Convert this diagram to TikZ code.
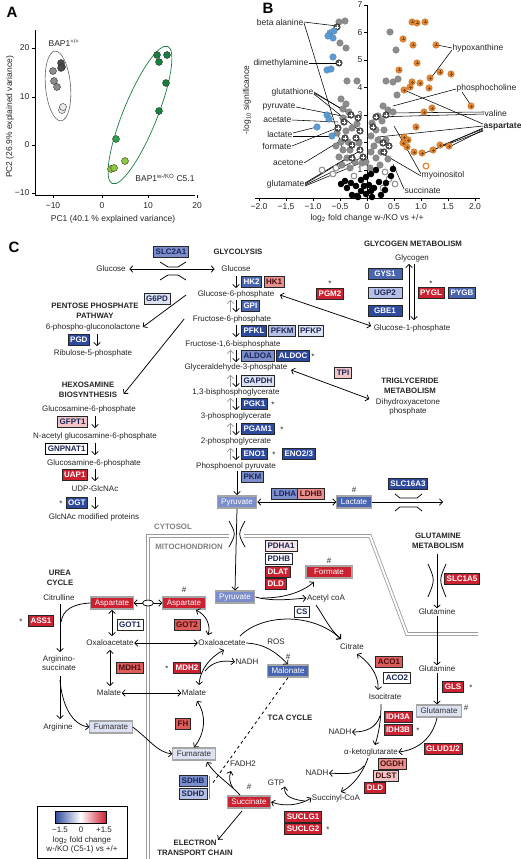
\documentclass[tikz,border=0pt]{standalone}
\usepackage{fontspec}
\setmainfont{Liberation Sans}
\usetikzlibrary{arrows.meta,calc}
\definecolor{bD}{HTML}{2E4A9E}
\definecolor{bM}{HTML}{4A65B0}
\definecolor{bL}{HTML}{7B8ECB}
\definecolor{bLL}{HTML}{B5C0E4}
\definecolor{bVL}{HTML}{DDE2F2}
\definecolor{rD}{HTML}{CC2131}
\definecolor{rM}{HTML}{DD5C5C}
\definecolor{rL}{HTML}{E89090}
\definecolor{rLL}{HTML}{F2C6C6}
\definecolor{rVL}{HTML}{FAE6E6}
\definecolor{navy}{HTML}{1B2658}
\definecolor{dred}{HTML}{4A0E0E}
\definecolor{memb}{HTML}{9A9A9A}
\definecolor{orng}{HTML}{E8862E}
\definecolor{sky}{HTML}{5B9BD5}
\definecolor{gD}{HTML}{17803F}
\definecolor{gM}{HTML}{2FA04E}
\definecolor{gL}{HTML}{8DC63F}
\begin{document}
\begin{tikzpicture}[x=1pt,y=-1pt,
 every node/.style={inner sep=0.5pt, text=black!85},
 t/.style={font=\fontsize{8}{9.5}\selectfont, align=center},
 ta/.style={font=\fontsize{8.5}{10}\selectfont},
 tb/.style={font=\bfseries\fontsize{7.8}{9.5}\selectfont, align=center},
 big/.style={font=\bfseries\fontsize{15}{15}\selectfont, text=black},
 ebox/.style={draw=black!85, line width=0.6pt, font=\bfseries\fontsize{8}{9}\selectfont, inner xsep=2.2pt, inner ysep=0pt, minimum height=11pt, text height=6pt, text depth=0.3pt},
 ew/.style={ebox, fill=#1, text=white},
 ek/.style={ebox, fill=#1, text=navy},
 er/.style={ebox, fill=#1, text=dred},
 mbox/.style={draw=black!35, line width=1.2pt, font=\fontsize{8}{9}\selectfont, inner xsep=4pt, inner ysep=0pt, minimum height=12pt, text height=6pt, text depth=1.5pt},
 mw/.style={mbox, fill=#1, text=white},
 mk/.style={mbox, fill=#1, text=black!80},
 arr/.style={-{Straight Barb[length=3pt,width=6.5pt]}, line width=0.75pt},
 darr/.style={{Straight Barb[length=3pt,width=6.5pt]}-{Straight Barb[length=3pt,width=6.5pt]}, line width=0.75pt},
 garr/.style={arr, draw=black!40},
 mem/.style={draw=memb, double=white, double distance=2pt, line width=0.8pt},
 tr/.style={line width=0.75pt},
 lead/.style={line width=0.55pt},
 pA/.style={draw=black!80, line width=0.4pt},
]
\useasboundingbox (0,0) rectangle (520,859);
\fill[white] (0,0) rectangle (520,859);

%================ PANEL A
\node[big] (labA) at (12,12) {A};
\draw[line width=0.6pt] (35,30) -- (35,195) -- (195,195);
\foreach \yy/\lab in {48/20,97/10,145/0,193/−10} {\draw[line width=0.5pt] (32,\yy) -- (35,\yy); \node[ta, anchor=east] (ya\yy) at (30,\yy) {\lab};}
\foreach \xx/\lab in {53/−10,102/0,148/10,197/20} {\draw[line width=0.5pt] (\xx,195) -- (\xx,198); \node[ta] (xa\xx) at (\xx,206) {\lab};}
\node[ta, rotate=90] (ylabA) at (10,117) {PC2 (26.9\% explained variance)};
\node[ta] (xlabA) at (113,219) {PC1 (40.1 \% explained variance)};
\draw[black!60, line width=0.6pt, rotate around={95:(58,86)}] (58,86) ellipse [x radius=35, y radius=12.5];
\draw[gD, line width=0.7pt, rotate around={68:(140,115)}] (140,115) ellipse [x radius=74, y radius=17];
\foreach \x/\y in {53/71,54/81,57/87} \fill[pA, fill=black!45] (\x,\y) circle (3.5);
\foreach \x/\y in {61/63,62/67,61/68} \fill[pA, fill=black!70] (\x,\y) circle (3.5);
\foreach \x/\y in {62/110,63/107} \fill[pA, fill=black!8] (\x,\y) circle (3.5);
\foreach \x/\y in {157/55,167/55,159/62,166/83,159/111} \fill[pA, fill=gD] (\x,\y) circle (3.5);
\fill[pA, fill=gM] (116,139) circle (3.5);
\foreach \x/\y in {125/161,111/169,114/168} \fill[pA, fill=gL] (\x,\y) circle (3.5);
\node[ta] (bapwt) at (64,43) {BAP1\textsuperscript{+/+}};
\node[ta] (bapko) at (165,178) {BAP1\textsuperscript{w-/KO} C5.1};

%================ PANEL B
\node[big] (labB) at (268,8) {B};
\draw[line width=0.6pt] (367,5) -- (367,198);
\draw[line width=0.6pt] (255,198) -- (480,198);
\foreach \v/\yy in {1/170,2/142.5,3/115,4/87.5,5/60,6/32.5,7/5} {\draw[line width=0.5pt] (364,\yy) -- (367,\yy); \node[ta, anchor=east] (yb\v) at (363,\yy) {\v};}
\foreach \xx/\lab in {259/−2.0,286/−1.5,313/−1.0,340/−0.5,367/0,394/0.5,421/1.0,448/1.5,475/2.0} {\draw[line width=0.5pt] (\xx,198) -- (\xx,201); \node[ta] (xb\xx) at (\xx,207) {\lab};}
\node[ta, rotate=90] (ylabB) at (247,100) {-log\textsubscript{10} significance};
\node[ta] (xlabB) at (367,218) {log\textsubscript{2} fold change w-/KO vs +/+};
% leader lines
\draw[lead] (304,22) -- (337,26);  \draw[lead] (304,23) -- (342,147);
\draw[lead] (309,63) -- (338,63);
\draw[lead] (314,92) -- (351,115); \draw[lead] (314,93) -- (358,118); \draw[lead] (314,94) -- (360,131);
\draw[lead] (296,107) -- (352,118);
\draw[lead] (292,120) -- (338,122);
\draw[lead] (293,133) -- (317,127); \draw[lead] (293,136) -- (331,136);
\draw[lead] (292,146) -- (337,128);
\draw[lead] (304,163) -- (345,138);
\draw[lead] (305,183) -- (352,155); \draw[lead] (305,184) -- (358,152); \draw[lead] (305,185) -- (363,157); \draw[lead] (305,186) -- (368,160);
\draw[lead] (452,48) -- (437,45); \draw[lead] (452,50) -- (431,78);
\draw[lead] (456,89) -- (393,106); \draw[lead] (462,92) -- (470,104);
\draw[lead] (484,112) -- (387,113); \draw[lead] (484,114) -- (374,117);
\draw[lead] (483,124) -- (404,90); \draw[lead] (483,126) -- (378,137); \draw[lead] (483,128) -- (433,150); \draw[lead] (483,129) -- (440,146); \draw[lead] (483,130) -- (449,147); \draw[lead] (483,131) -- (422,154);
\draw[lead] (421,174) -- (394,126); \draw[lead] (421,176) -- (385,155);
\draw[lead] (404,189) -- (393,164);
% points
\foreach \x/\y in {339/22,345/21,340/43,346/48,347/81,357/81,341/99,346/104,343/109,349/112,343/118,337/133,346/131,341/142,348/142,336/146,343/150,350/150,339/157,347/158,355/162,362/163,342/165,350/168,390/32,396/50,386/81,393/82,398/79,397/95,383/106,388/110,393/112,378/116,382/121,372/123,376/130,384/130,371/136,378/140,386/140,374/146,371/152,381/152,376/158,388/159,380/165,370/168,366/162,359/143,352/128,357/124}
  \fill[draw=black!55, line width=0.3pt, fill=black!45] (\x,\y) circle (3.3);
\foreach \x/\y in {322/170,333/174,354/176,385/172,389/179,383/188,395/184,336/168}
  \draw[black!45, fill=white, line width=1pt] (\x,\y) circle (2.9);
\foreach \x/\y in {345/181,351/183,356/186,361/180,366/177,371/174,376/170,369/185,374/188,379/182,386/183,391/176,393/169,361/191,352/195,357/196,381/195,366/194,371/191,341/184,347/188,364/186,372/197,358/197,385/190}
  \fill[black] (\x,\y) circle (3.3);
\foreach \x/\y in {337/27,339/63,351/115,358/118,344/122,338/128,360/131,345/138,356/138,352/145,360/150,363/157,352/158,386/115,373/127,383/143,389/146,384/152,376/117}
  {\fill[draw=black, line width=0.3pt, fill=black!65] (\x,\y) circle (3.3);
   \draw[white, line width=0.5pt] (\x-2,\y) -- (\x+2,\y) (\x,\y-2) -- (\x,\y+2);}
\foreach \x/\y in {330/33,334/31,328/36,333/38,333/57,327/70,331/69,327/115,329/119,317/127,332/136}
  \fill[draw=sky!80!black, line width=0.3pt, fill=sky] (\x,\y) circle (3.3);
\foreach \x/\y in {412/22,417/23,425/22,403/39,413/45,436/45,399/70,417/63,430/78,440/72,451/74,412/82,420/83,429/88,404/90,410/87,471/106,424/112,432/108,416/127,404/137,408/140,403/143,407/147,414/152,422/153,433/150,440/145,449/146}
  {\fill[draw=orng!75!black, line width=0.3pt, fill=orng] (\x,\y) circle (3.3);
   \draw[orng!55!black, line width=0.4pt] (\x-1.5,\y) -- (\x+1.5,\y) (\x,\y-1.5) -- (\x,\y+1.5);}
\draw[orng, fill=white, line width=1.2pt] (426,166) circle (2.9);
% labels B
\node[ta, anchor=east] (lba) at (304,22) {beta alanine};
\node[ta, anchor=east] (ldma) at (309,63) {dimethylamine};
\node[ta, anchor=east] (lgsh) at (314,92) {glutathione};
\node[ta, anchor=east] (lpyr) at (296,107) {pyruvate};
\node[ta, anchor=east] (lace) at (292,120) {acetate};
\node[ta, anchor=east] (llac) at (293,134) {lactate};
\node[ta, anchor=east] (lfor) at (292,146) {formate};
\node[ta, anchor=east] (lacn) at (304,163) {acetone};
\node[ta, anchor=east] (lglu) at (305,184) {glutamate};
\node[ta, anchor=west] (lhyp) at (452,48) {hypoxanthine};
\node[ta, anchor=west] (lphc) at (456,88) {phosphocholine};
\node[ta, anchor=west] (lval) at (484,113) {valine};
\node[ta, anchor=west, font=\bfseries\fontsize{8.5}{10}\selectfont] (lasp) at (483,127) {aspartate};
\node[ta, anchor=west] (lmyo) at (421,175) {myoinositol};
\node[ta, anchor=west] (lsuc) at (404,190) {succinate};

%================ PANEL C
\node[big] (labC) at (14,247) {C};
% membrane
\draw[mem] (148,859) -- (148,536) -- (229,536);
\draw[mem] (244,536) -- (370,536) -- (407,634) -- (478,634);
\node[tb, text=black!50] (lcyto) at (173,527) {CYTOSOL};
\node[tb, text=black!50] (lmito) at (189,547) {MITOCHONDRION};

% glucose transport
\node[ek=bL] (slc2a1) at (171,252) {SLC2A1};
\node[t] (glcout) at (111,269) {Glucose};
\node[t] (glc) at (236,269) {Glucose};
\node[tb] (tglyc) at (238,252) {GLYCOLYSIS};
\draw[darr, shorten <=3pt, shorten >=6pt] (glcout) -- (glc);
\draw[tr] (160,262) -- (168,267) -- (178,267) -- (186,262);
\draw[tr] (160,280) -- (168,275) -- (178,275) -- (186,280);

% glycolysis column
\node[t] (g6p) at (236,294) {Glucose-6-phosphate};
\node[t] (f6p) at (232,319) {Fructose-6-phosphate};
\node[t] (f16) at (233,344) {Fructose-1,6-bisphosphate};
\node[t] (ga3p) at (236,367) {Glyceraldehyde-3-phosphate};
\node[t] (bpg) at (236,392) {1,3-bisphosphoglycerate};
\node[t] (pg3) at (236,416) {3-phosphoglycerate};
\node[t] (pg2) at (236,441) {2-phosphoglycerate};
\node[t] (pep) at (236,466) {Phosphoenol pyruvate};
\node[ew=bM, anchor=west] (hk2) at (241,282) {HK2};
\node[er=rL, anchor=west] (hk1) at ($(hk2.east)+(1.5,0)$) {HK1};
\node[ew=bM, anchor=west] (gpi) at (241,306) {GPI};
\node[ew=bD, anchor=west] (pfkl) at (241,331) {PFKL};
\node[ek=bLL, anchor=west] (pfkm) at ($(pfkl.east)+(1.5,0)$) {PFKM};
\node[ek=bVL, anchor=west] (pfkp) at ($(pfkm.east)+(1.5,0)$) {PFKP};
\node[ek=bL, anchor=west] (aldoa) at (241,356) {ALDOA};
\node[ew=bD, anchor=west] (aldoc) at ($(aldoa.east)+(2,0)$) {ALDOC};
\node[t] (saldoc) at (313,357) {*};
\node[ek=bVL, anchor=west] (gapdh) at (241,381) {GAPDH};
\node[ew=bD, anchor=west] (pgk1) at (241,404) {PGK1};
\node[t] (spgk1) at (273,405) {*};
\node[ew=bD, anchor=west] (pgam1) at (241,429) {PGAM1};
\node[t] (spgam1) at (282,430) {*};
\node[ew=bD, anchor=west] (eno1) at (241,454) {ENO1};
\node[t] (seno1) at (274,455) {*};
\node[ew=bD, anchor=west] (eno23) at (282,454) {ENO2/3};
\node[ek=bL, anchor=west] (pkm) at (241,477) {PKM};
\foreach \yy in {282,331} \draw[arr] (236,\yy-6) -- (236,\yy+6);
\foreach \yy in {306,356,381,404,429,454} {\draw[arr] (236,\yy-6) -- (236,\yy+6); \draw[garr] (230.5,\yy+6) -- (230.5,\yy-6);}

% pentose phosphate
\node[ek=bVL] (g6pd) at (157,299) {G6PD};
\node[tb] (tpent) at (95,311) {PENTOSE PHOSPHATE\\PATHWAY};
\node[t] (pgl) at (93,327) {6-phospho-gluconolactone};
\node[ew=bD, anchor=east] (pgd) at (90,340) {PGD};
\node[t] (ru5p) at (93,353) {Ribulose-5-phosphate};
\draw[arr] (97,334) -- (97,346);
\draw[arr] ($(g6p.west)+(-11,1)$) -- ($(pgl.east)+(2,0)$);

% hexosamine
\node[tb] (thex) at (88,390) {HEXOSAMINE\\BIOSYNTHESIS};
\draw[arr] ($(f6p.west)+(-8,0)$) -- ($(thex.east)+(6,4)$);
\node[t] (gn6p) at (89,409) {Glucosamine-6-phosphate};
\node[ek=rLL, anchor=east] (gfpt1) at (88,422) {GFPT1};
\node[t] (nac) at (95,436) {N-acetyl glucosamine-6-phosphate};
\node[ek=white, anchor=east, draw=black] (gnpnat1) at (88,449) {GNPNAT1};
\node[t] (gn6pb) at (94,463) {Glucosamine-6-phosphate};
\node[ew=rD, anchor=east] (uap1) at (88,475) {UAP1};
\node[t] (udp) at (95,489) {UDP-GlcNAc};
\node[ew=bD, anchor=east] (ogt) at (88,503) {OGT};
\node[t] (sogt) at (61,504) {*};
\node[t] (glcnac) at (94,517) {GlcNAc modified proteins};
\foreach \yy in {422,449,475,503} \draw[arr] (95,\yy-6) -- (95,\yy+6);

% glycogen
\node[tb] (tgly) at (413,244) {GLYCOGEN METABOLISM};
\node[t] (glycogen) at (412,258) {Glycogen};
\node[ew=bM, minimum width=34pt] (gys1) at (385,274) {GYS1};
\node[ek=bLL, minimum width=34pt] (ugp2) at (385,293) {UGP2};
\node[ew=bD, minimum width=34pt] (gbe1) at (385,311) {GBE1};
\node[t] (g1p) at (412,328) {Glucose-1-phosphate};
\draw[arr] (409,320) -- (409,264);
\draw[arr] (414,264) -- (414,320);
\node[t] (spygl) at (431,284) {*};
\node[ew=rD] (pygl) at (431,293) {PYGL};
\node[ew=bM] (pygb) at (462,293) {PYGB};
\node[t] (spgm2) at (330,284) {*};
\node[ew=rD] (pgm2) at (330,294) {PGM2};
\draw[darr] ($(g6p.east)+(5,1)$) -- ($(g1p.west)+(-2,-2)$);

% triglyceride
\node[ek=rLL] (tpi) at (343,373) {TPI};
\node[tb] (ttri) at (410,386) {TRIGLYCERIDE\\METABOLISM};
\node[t] (dhap) at (408,407) {Dihydroxyacetone\\phosphate};
\draw[darr] ($(ga3p.east)+(3,3)$) -- ($(dhap.west)+(-6,-8)$);

% pyruvate / lactate
\draw[arr] (237,471) -- (237,495);
\node[mw=bL] (pyrc) at (237,502) {Pyruvate};
\node[ek=bL] (ldha) at (285,494) {LDHA};
\node[er=rL] (ldhb) at (311,494) {LDHB};
\node[t] (hlac) at (354,490) {\#};
\node[mw=bM] (lac) at (354,502) {Lactate};
\draw[darr] (pyrc.east) -- (lac.west);
\node[ew=bD] (slc16a3) at (408,484) {SLC16A3};
\coordinate (lacout) at (443,502);
\draw[arr] (lac.east) -- (lacout);
\draw[tr] (395,494) -- (400,498) -- (417,498) -- (422,494);
\draw[tr] (395,511) -- (400,507) -- (417,507) -- (422,511);

% pyruvate into mito
\node[mw=bL] (pyrm) at (235,597) {Pyruvate};
\draw[arr] (pyrc.south) -- (pyrm.north);
\draw[tr] (229,521) .. controls (236,534) .. (229,547);
\draw[tr] (245,521) .. controls (238,534) .. (245,547);

\node[ek=rVL, anchor=west] (pdha1) at (265,546) {PDHA1};
\node[ek=white, anchor=west] (pdhb) at (265,559) {PDHB};
\node[ew=rD, anchor=west] (dlat) at (265,572) {DLAT};
\node[ew=rD, anchor=west] (dld) at (265,584) {DLD};
\node[t] (hform) at (329,561) {\#};
\node[mw=rD, minimum width=46pt] (formate) at (329,572) {Formate};
\node[t] (acoa) at (326,598) {Acetyl coA};
\node[ek=white] (cs) at (302,612) {CS};
\node[t] (cit) at (352,647) {Citrate};
\draw[arr] (pyrm.east) .. controls (270,601) and (285,600) .. (acoa.west);
\draw[arr] (262,598) .. controls (285,598) and (302,592) .. (314,582);
\draw[arr] (316,605) .. controls (325,618) and (330,630) .. (341,639);

% aspartate / OAA / malate
\node[tb] (turea) at (60,578) {UREA\\CYCLE};
\node[t] (citr) at (59,598) {Citrulline};
\node[ew=rD] (ass1) at (41,621) {ASS1};
\node[t] (sass1) at (21,622) {*};
\node[t] (argsuc) at (59,663) {Arginino-\\succinate};
\node[t] (arg) at (58,727) {Arginine};
\node[mk=bVL] (fumc) at (111,727) {Fumarate};
\node[mw=rD] (aspc) at (112,603) {Aspartate};
\node[t] (hasp) at (184,590) {\#};
\node[mw=rD] (aspm) at (184,603) {Aspartate};
\draw[darr] (aspc.east) -- (aspm.west);
\draw[line width=0.7pt, fill=white] (148,603) ellipse [x radius=5.5, y radius=3];
\node[ek=white] (got1) at (130,625) {GOT1};
\node[er=rM] (got2) at (187,625) {GOT2};
\node[t] (oaac) at (110,643) {Oxaloacetate};
\node[t] (oaam) at (222,643) {Oxaloacetate};
\draw[darr] (112,610) -- (112,636);
\draw[darr] (oaac.east) -- (oaam.west);
\node[er=rM] (mdh1) at (130,668) {MDH1};
\node[t] (smdh2) at (167,669) {*};
\node[ew=rD] (mdh2) at (187,668) {MDH2};
\node[t] (malc) at (109,693) {Malate};
\node[t] (malm) at (194,693) {Malate};
\draw[darr] (110,650) -- (110,686);
\draw[darr] (malc.east) -- (malm.west);
\draw[darr] (196,610) .. controls (206,615) and (211,625) .. (208,635);
\draw[arr] (60,604) -- (60,652);
\draw[tr] (aspc.west) .. controls (72,604) and (63,610) .. (61,622);
\draw[arr] (60,676) -- (60,719);
\draw[arr] (60,680) .. controls (62,705) and (72,725) .. (fumc.west);
\node[t] (ros) at (276,642) {ROS};
\node[t] (hmal) at (288,657) {\#};
\node[mw=bM] (malon) at (288,671) {Malonate};
\node[t] (nadh1) at (247,662) {NADH};
\draw[arr] (oaam.east) .. controls (265,644) and (276,652) .. (malon.north);
\draw[arr] (240,636) .. controls (262,614) and (312,612) .. (341,639);
\draw[darr] (199,685) .. controls (200,670) and (210,657) .. (224,650);
\draw[arr] (205,671) .. controls (213,661) and (224,660) .. (nadh1.west);
\node[er=rM] (fh) at (183,724) {FH};
\node[mk=bVL] (fumm) at (194,754) {Fumarate};
\draw[darr] (fumm.north) .. controls (206,732) and (206,714) .. (197,701);
\draw[arr] (fumc.east) .. controls (150,740) and (157,752) .. (fumm.west);
\node[ek=bL, minimum width=28pt] (sdhb) at (193,781) {SDHB};
\node[ek=bLL, minimum width=28pt] (sdhd) at (193,794) {SDHD};
\draw[black!45, line width=1pt] (209,776) -- (209,799);
\draw[dashed, line width=0.8pt] (malon.south) -- (212,784);
\node[t] (fadh) at (243,764) {FADH2};
\node[t] (hsuc) at (249,787) {\#};
\node[mw=rD] (succ) at (249,802) {Succinate};
\draw[arr] (240,795) .. controls (230,784) and (215,775) .. (207,762);
\draw[arr] (233,788) .. controls (229,782) and (229,777) .. (231,771);
\node[tb] (etc) at (195,848) {ELECTRON\\TRANSPORT CHAIN};
\draw[arr] (242,811) -- (etc.north -| 218,0);

% TCA right part
\node[tb] (tca) at (290,718) {TCA CYCLE};
\node[er=rM] (aco1) at (389,662) {ACO1};
\node[ek=white] (aco2) at (397,678) {ACO2};
\node[t] (isocit) at (385,697) {Isocitrate};
\draw[darr] (357,654) .. controls (372,664) and (379,678) .. (378,690);
\node[ew=rD, minimum width=28pt] (idh3a) at (398,717) {IDH3A};
\node[ew=rD, minimum width=28pt] (idh3b) at (398,730) {IDH3B};
\node[t] (sidh) at (418,731) {*};
\node[t] (nadh2) at (340,732) {NADH};
\node[t] (akg) at (371,752) {α-ketoglutarate};
\draw[arr] (381,704) .. controls (381,720) and (379,732) .. (375,745);
\draw[arr] (380,716) .. controls (376,728) and (366,732) .. (nadh2.east);
\node[er=rL] (ogdh) at (392,764) {OGDH};
\node[er=rLL] (dlst) at (386,776) {DLST};
\node[ew=rD] (dld2) at (375,788) {DLD};
\node[t] (nadh3) at (317,773) {NADH};
\node[t] (succoa) at (336,798) {Succinyl-CoA};
\draw[arr] (368,758) .. controls (362,775) and (352,786) .. (341,792);
\draw[arr] (364,766) .. controls (356,775) and (346,774) .. (nadh3.east);
\node[t] (gtp) at (276,783) {GTP};
\draw[darr] (succoa.west) .. controls (300,805) and (285,807) .. (succ.east);
\draw[arr] (305,801) .. controls (295,800) and (283,797) .. (gtp.south east);
\node[ew=rD, minimum width=36pt] (suclg1) at (303,817) {SUCLG1};
\node[ew=rD, minimum width=36pt] (suclg2) at (303,829) {SUCLG2};
\node[t] (ssucl) at (328,830) {*};

% glutamine
\node[tb] (tglnm) at (438,541) {GLUTAMINE\\METABOLISM};
\node[ew=rD] (slc1a5) at (462,579) {SLC1A5};
\node[t] (glnc) at (437,612) {Glutamine};
\coordinate (glnin) at (437,554);
\draw[arr] (glnin) -- (glnc.north);
\draw[tr] (428,564) .. controls (435,580) .. (428,597);
\draw[tr] (446,564) .. controls (439,580) .. (446,597);
\node[t] (glnm) at (437,669) {Glutamine};
\draw[arr] (glnc.south) -- (glnm.north);
\node[ew=rD] (gls) at (453,687) {GLS};
\node[t] (sgls) at (471,688) {*};
\node[mk=bVL] (glu) at (439,711) {Glutamate};
\node[t] (hglu) at (466,708) {\#};
\draw[arr] (glnm.south) -- (glnm.south |- glu.north);
\draw[arr] (437,718) .. controls (432,740) and (416,750) .. (akg.east);
\node[ew=rD] (glud) at (443,749) {GLUD1/2};

% legend
\draw[line width=0.8pt] (37,806) rectangle (127,858);
\shade[left color=bD, right color=rD, middle color=white] (55,811) rectangle (106,823);
\draw[line width=0.6pt] (55,811) rectangle (106,823);
\node[t] (lgm) at (60,830) {−1.5};
\node[t] (lg0) at (81,830) {0};
\node[t] (lgp) at (104,830) {+1.5};
\node[t] (lgt1) at (82,840) {log\textsubscript{2} fold change};
\node[t] (lgt2) at (82,849) {w-/KO (C5-1) vs +/+};
\end{tikzpicture}
\end{document}
